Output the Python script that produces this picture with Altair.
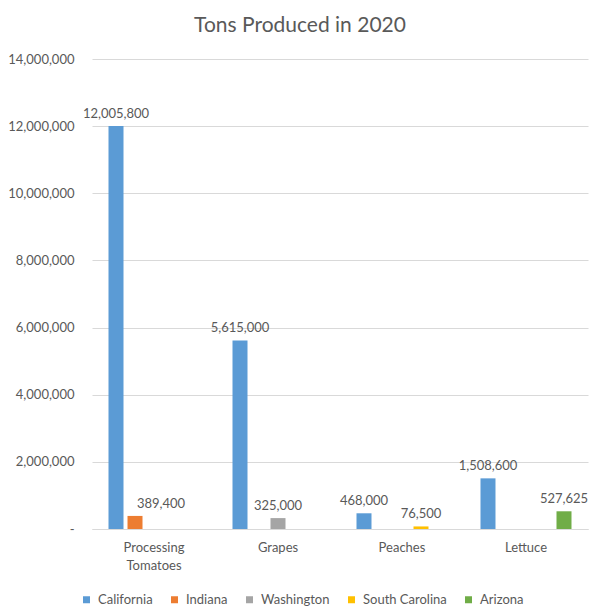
import altair as alt
import pandas as pd

# Crop production, tons, 2020
crops = ["Processing Tomatoes", "Grapes", "Peaches", "Lettuce"]
states = ["California", "Indiana", "Washington", "South Carolina", "Arizona"]
colors = ["#5B9BD5", "#ED7D31", "#A5A5A5", "#FFC000", "#70AD47"]

california = [12005800, 5615000, 468000, 1508600]
indiana = [389400, None, None, None]
washington = [None, 325000, None, None]
south_carolina = [None, None, 76500, None]
arizona = [None, None, None, 527625]

series = [california, indiana, washington, south_carolina, arizona]
rows = []
for state, vals in zip(states, series):
    for crop, v in zip(crops, vals):
        if v is not None:
            rows.append({"crop": crop, "state": state, "tons": v})
df = pd.DataFrame(rows)

FONT = "Lato"
TEXT = "#595959"

x_enc = alt.X(
    "crop:N",
    sort=crops,
    scale=alt.Scale(paddingInner=0.2339, paddingOuter=0.117),
    axis=alt.Axis(
        title=None,
        labelExpr="split(datum.label, ' ')",
        labelFont=FONT,
        labelFontSize=13,
        labelColor=TEXT,
        labelPadding=12,
        labelLineHeight=18,
        ticks=False,
        grid=False,
        domainColor="#D9D9D9",
        labelAngle=0,
    ),
)
xoff_enc = alt.XOffset(
    "state:N",
    sort=states,
    scale=alt.Scale(domain=states, paddingInner=0.2105, paddingOuter=0.105),
)
y_enc = alt.Y(
    "tons:Q",
    scale=alt.Scale(domain=[0, 14000000]),
    axis=alt.Axis(
        title=None,
        values=list(range(0, 14000001, 2000000)),
        # accounting-style zero shown as a dash
        labelExpr="datum.value == 0 ? '-\u2007' : format(datum.value, ',')",
        labelFont=FONT,
        labelFontSize=13,
        labelColor=TEXT,
        labelPadding=18,
        ticks=False,
        domain=False,
        gridColor="#D9D9D9",
        gridWidth=1,
    ),
)

base = alt.Chart(df).encode(x=x_enc, xOffset=xoff_enc, y=y_enc)

bars = base.mark_bar(size=15).encode(
    color=alt.Color(
        "state:N",
        sort=states,
        scale=alt.Scale(domain=states, range=colors),
        legend=alt.Legend(
            title=None,
            orient="none",
            direction="horizontal",
            legendX=-12,
            legendY=534,
            symbolType="square",
            symbolSize=49,
            symbolStrokeWidth=0,
            labelFont=FONT,
            labelFontSize=13,
            labelColor=TEXT,
            labelOffset=5,
            columnPadding=15,
        ),
    )
)

label_style = dict(baseline="bottom", dy=-5, font=FONT, fontSize=13, color=TEXT)

labels = base.mark_text(**label_style).encode(
    text=alt.Text("tons:Q", format=",")
).transform_filter(alt.datum.state != "Indiana")

labels_indiana = base.mark_text(dx=26, **label_style).encode(
    text=alt.Text("tons:Q", format=",")
).transform_filter(alt.datum.state == "Indiana")

chart = (
    alt.layer(bars, labels, labels_indiana)
    .properties(
        width=496,
        height=470,
        background="white",
        title=alt.TitleParams(
            "Tons Produced in 2020",
            font=FONT,
            fontSize=21,
            fontWeight="normal",
            color=TEXT,
            anchor="middle",
            dx=-40,
            offset=17,
        ),
        autosize=alt.AutoSizeParams(type="none"),
        padding={"left": 92, "top": 59, "right": 12, "bottom": 87},
    )
    .configure_view(stroke="transparent", strokeWidth=0)
)

chart.save("out.html", embed_options={"renderer": "svg", "actions": False})
